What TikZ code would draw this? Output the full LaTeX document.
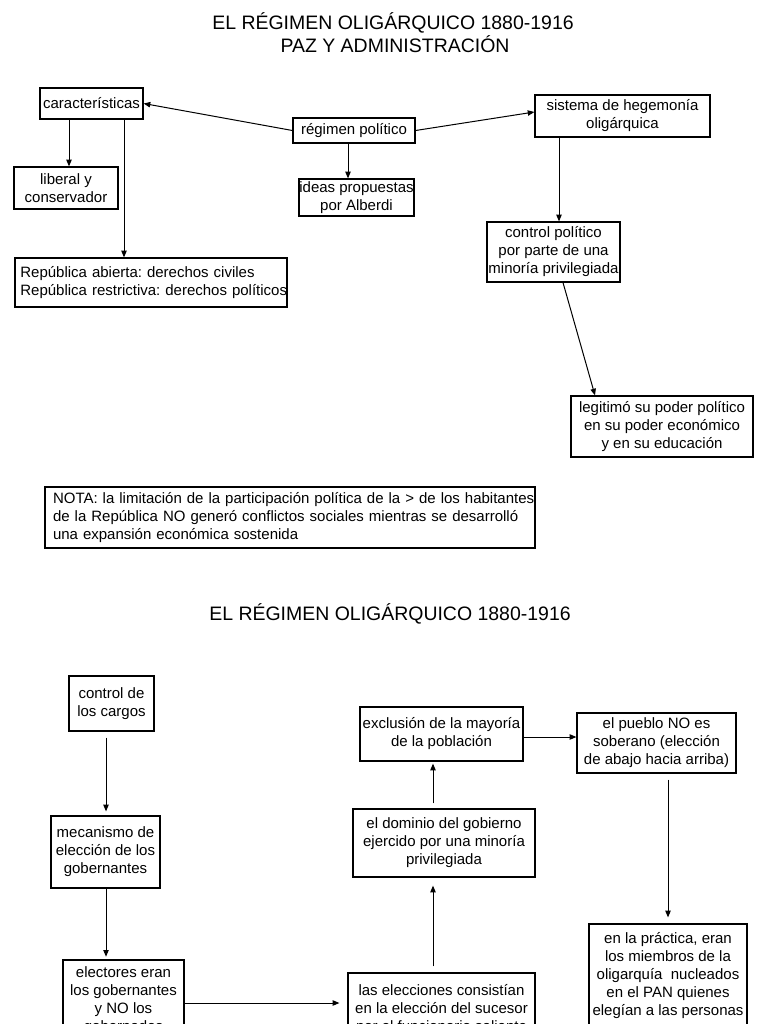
\documentclass[tikz,border=0pt]{standalone}
\usepackage{fontspec}
\setmainfont{Liberation Sans}
\usetikzlibrary{arrows.meta}
\frenchspacing
\begin{document}
\begin{tikzpicture}[x=0.75pt,y=-0.75pt,
  box/.style={draw=black, line width=0.9pt, inner sep=0pt, align=center, font=\fontsize{11.25}{13.5}\selectfont},
  lbox/.style={draw=black, line width=0.9pt, inner xsep=6pt, inner ysep=0pt, align=left, font=\fontsize{11.25}{13.5}\selectfont},
  sz/.style 2 args={minimum width=#1*0.75pt, minimum height=#2*0.75pt},
  arr/.style={-{Triangle[length=5pt,width=4pt]}, line width=0.75pt},
  ttl/.style={font=\fontsize{14.6}{17.5}\selectfont, anchor=base, inner sep=0pt}]
\useasboundingbox (0,0) rectangle (768,1024);
\fill[white] (0,0) rectangle (768,1024);
\clip (0,0) rectangle (768,1024);

% titles
\node[ttl] (t1) at (393,30) {EL RÉGIMEN OLIGÁRQUICO 1880-1916};
\node[ttl] (t2) at (395,53) {PAZ Y ADMINISTRACIÓN};
\node[ttl] (t3) at (390,620) {EL RÉGIMEN OLIGÁRQUICO 1880-1916};

% first diagram
\node[box, sz={103}{31}] (car) at (91.5,103.5) {características};
\node[box, sz={122}{25}] (reg) at (354,130.5) {régimen político};
\node[box, sz={175}{42}] (sis) at (622.5,116) {sistema de hegemonía\\oligárquica};
\node[box, sz={104}{42}] (lib) at (66,188) {liberal y\\conservador};
\node[box, sz={115}{37}] (ideas) at (356.5,197.5) {ideas propuestas\\por Alberdi};
\node[box, sz={133}{60}] (ctl) at (553.5,252) {control político\\por parte de una\\minoría privilegiada};
\node[lbox, inner xsep=4pt, text width=196pt, minimum height=36.75pt] (rep) at (151,282.5)
  {\mbox{República abierta: derechos civiles}\\\mbox{República restrictiva: derechos políticos}};
\node[box, sz={182}{61}] (leg) at (662,426.5) {legitimó su poder político\\en su poder económico\\y en su educación};
\node[lbox, text width=355.5pt, minimum height=45.75pt] (nota) at (290,517.5)
  {\mbox{NOTA: la limitación de la participación política de la > de los habitantes}\\
   \mbox{de la República NO generó conflictos sociales mientras se desarrolló}\\
   \mbox{una expansión económica sostenida}};

\coordinate (a1) at (69,0);
\coordinate (a2) at (124,0);
\coordinate (a3) at (348,0);
\coordinate (a4) at (559,0);
\coordinate (a5) at (563,0);
\coordinate (a6) at (595,0);

\draw[arr] (reg.west) -- (car.east);
\draw[arr] (reg.east) -- ([yshift=3pt]sis.west);
\draw[arr] (a1 |- car.south) -- (a1 |- lib.north);
\draw[arr] (a2 |- car.south) -- (a2 |- rep.north);
\draw[arr] (a3 |- reg.south) -- (a3 |- ideas.north);
\draw[arr] (a4 |- sis.south) -- (a4 |- ctl.north);
\draw[arr] (a5 |- ctl.south) -- (a6 |- leg.north);

% second diagram
\node[box, sz={85}{55}] (cc) at (111.5,703.5) {control de\\los cargos};
\node[box, sz={109}{72}] (mec) at (105.5,852) {mecanismo de\\elección de los\\gobernantes};
\node[box, sz={121}{81}] (elec) at (123.5,1000.5) {electores eran\\los gobernantes\\y NO los\\gobernados};
\node[box, sz={163}{54}] (excl) at (441.5,734) {exclusión de la mayoría\\de la población};
\node[box, sz={159}{60}] (pue) at (656.5,743) {el pueblo NO es\\soberano (elección\\de abajo hacia arriba)};
\node[box, sz={182}{68}] (dom) at (444,843) {el dominio del gobierno\\ejercido por una minoría\\privilegiada};
\node[box, sz={187}{73}] (las) at (441.5,1009.5) {las elecciones consistían\\en la elección del sucesor\\por el funcionario saliente};
\node[box, sz={158}{103}] (prac) at (668,975.5) {en la práctica, eran\\los miembros de la\\oligarquía~ nucleados\\en el PAN quienes\\elegían a las personas};

\coordinate (b1) at (106,0);
\coordinate (b2) at (0,1003);
\coordinate (b3) at (433,0);
\coordinate (b4) at (0,737);
\coordinate (b5) at (668,0);

\draw[arr, shorten <=4.5pt, shorten >=3pt] (b1 |- cc.south) -- (b1 |- mec.north);
\draw[arr, shorten >=2pt] (b1 |- mec.south) -- (b1 |- elec.north);
\draw[arr, shorten >=6pt] (b2 -| elec.east) -- (b2 -| las.west);
\draw[arr, shorten <=4.5pt, shorten >=6pt] (b3 |- las.north) -- (b3 |- dom.south);
\draw[arr, shorten <=3.75pt, shorten >=1.5pt] (b3 |- dom.north) -- (b3 |- excl.south);
\draw[arr] (b4 -| excl.east) -- (b4 -| pue.west);
\draw[arr, shorten <=4.5pt, shorten >=4.5pt] (b5 |- pue.south) -- (b5 |- prac.north);
\end{tikzpicture}
\end{document}
